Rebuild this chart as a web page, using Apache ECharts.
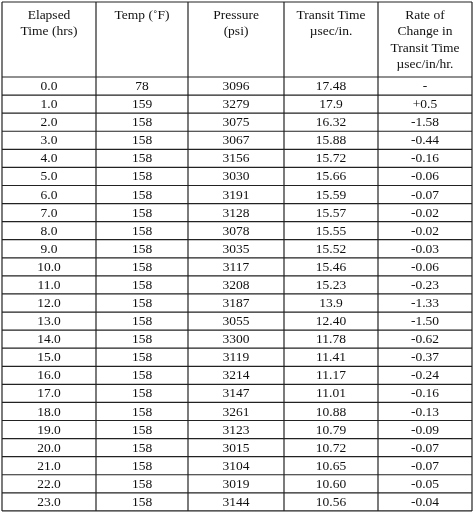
<!DOCTYPE html>
<html><head><meta charset="utf-8">
<script src="https://cdn.jsdelivr.net/npm/echarts@6/dist/echarts.min.js"></script>
<style>html,body{margin:0;padding:0;background:#fff}#c{width:474px;height:513px}</style>
</head><body><div id="c"></div>
<script>
var headers=[['Elapsed','Time (hrs)'],['Temp (\u02daF)'],['Pressure','(psi)'],['Transit Time','\u00b5sec/in.'],['Rate of','Change in','Transit Time','\u00b5sec/in/hr.']];
var times=['0.0','1.0','2.0','3.0','4.0','5.0','6.0','7.0','8.0','9.0','10.0','11.0','12.0','13.0','14.0','15.0','16.0','17.0','18.0','19.0','20.0','21.0','22.0','23.0'];
var temps=['78','159','158','158','158','158','158','158','158','158','158','158','158','158','158','158','158','158','158','158','158','158','158','158'];
var pressures=['3096','3279','3075','3067','3156','3030','3191','3128','3078','3035','3117','3208','3187','3055','3300','3119','3214','3147','3261','3123','3015','3104','3019','3144'];
var transit=['17.48','17.9','16.32','15.88','15.72','15.66','15.59','15.57','15.55','15.52','15.46','15.23','13.9','12.40','11.78','11.41','11.17','11.01','10.88','10.79','10.72','10.65','10.60','10.56'];
var rates=['-','+0.5','-1.58','-0.44','-0.16','-0.06','-0.07','-0.02','-0.02','-0.03','-0.06','-0.23','-1.33','-1.50','-0.62','-0.37','-0.24','-0.16','-0.13','-0.09','-0.07','-0.07','-0.05','-0.04'];

(function(){
var colX=[2,96,188,284,378,472];
var topY=2,headBottom=77,rowH=18.08;
var cols=[times,temps,pressures,transit,rates];
var font='13.5px "Liberation Serif", "DejaVu Serif", serif';
var els=[];
var bottomY=headBottom+rowH*times.length;
function line(x1,y1,x2,y2){els.push({type:'line',shape:{x1:x1,y1:y1,x2:x2,y2:y2},style:{stroke:'#222',lineWidth:1.2}});}
function text(t,x,y){els.push({type:'text',x:x,y:y,style:{text:t,font:font,fill:'#111',align:'center',verticalAlign:'middle'}});}
line(colX[0],topY,colX[5],topY);
line(colX[0],headBottom,colX[5],headBottom);
for(var i=1;i<=times.length;i++)line(colX[0],headBottom+rowH*i,colX[5],headBottom+rowH*i);
colX.forEach(function(x){line(x,topY,x,bottomY);});
headers.forEach(function(h,c){
  var cx=(colX[c]+colX[c+1])/2;
  h.forEach(function(t,k){text(t,cx,15+k*16.5);});
});
cols.forEach(function(col,c){
  var cx=(colX[c]+colX[c+1])/2;
  col.forEach(function(v,r){text(v,cx,headBottom+rowH*r+rowH/2+0.5);});
});
var chart=echarts.init(document.getElementById('c'));
chart.setOption({animation:false,graphic:els});
})();
</script></body></html>
